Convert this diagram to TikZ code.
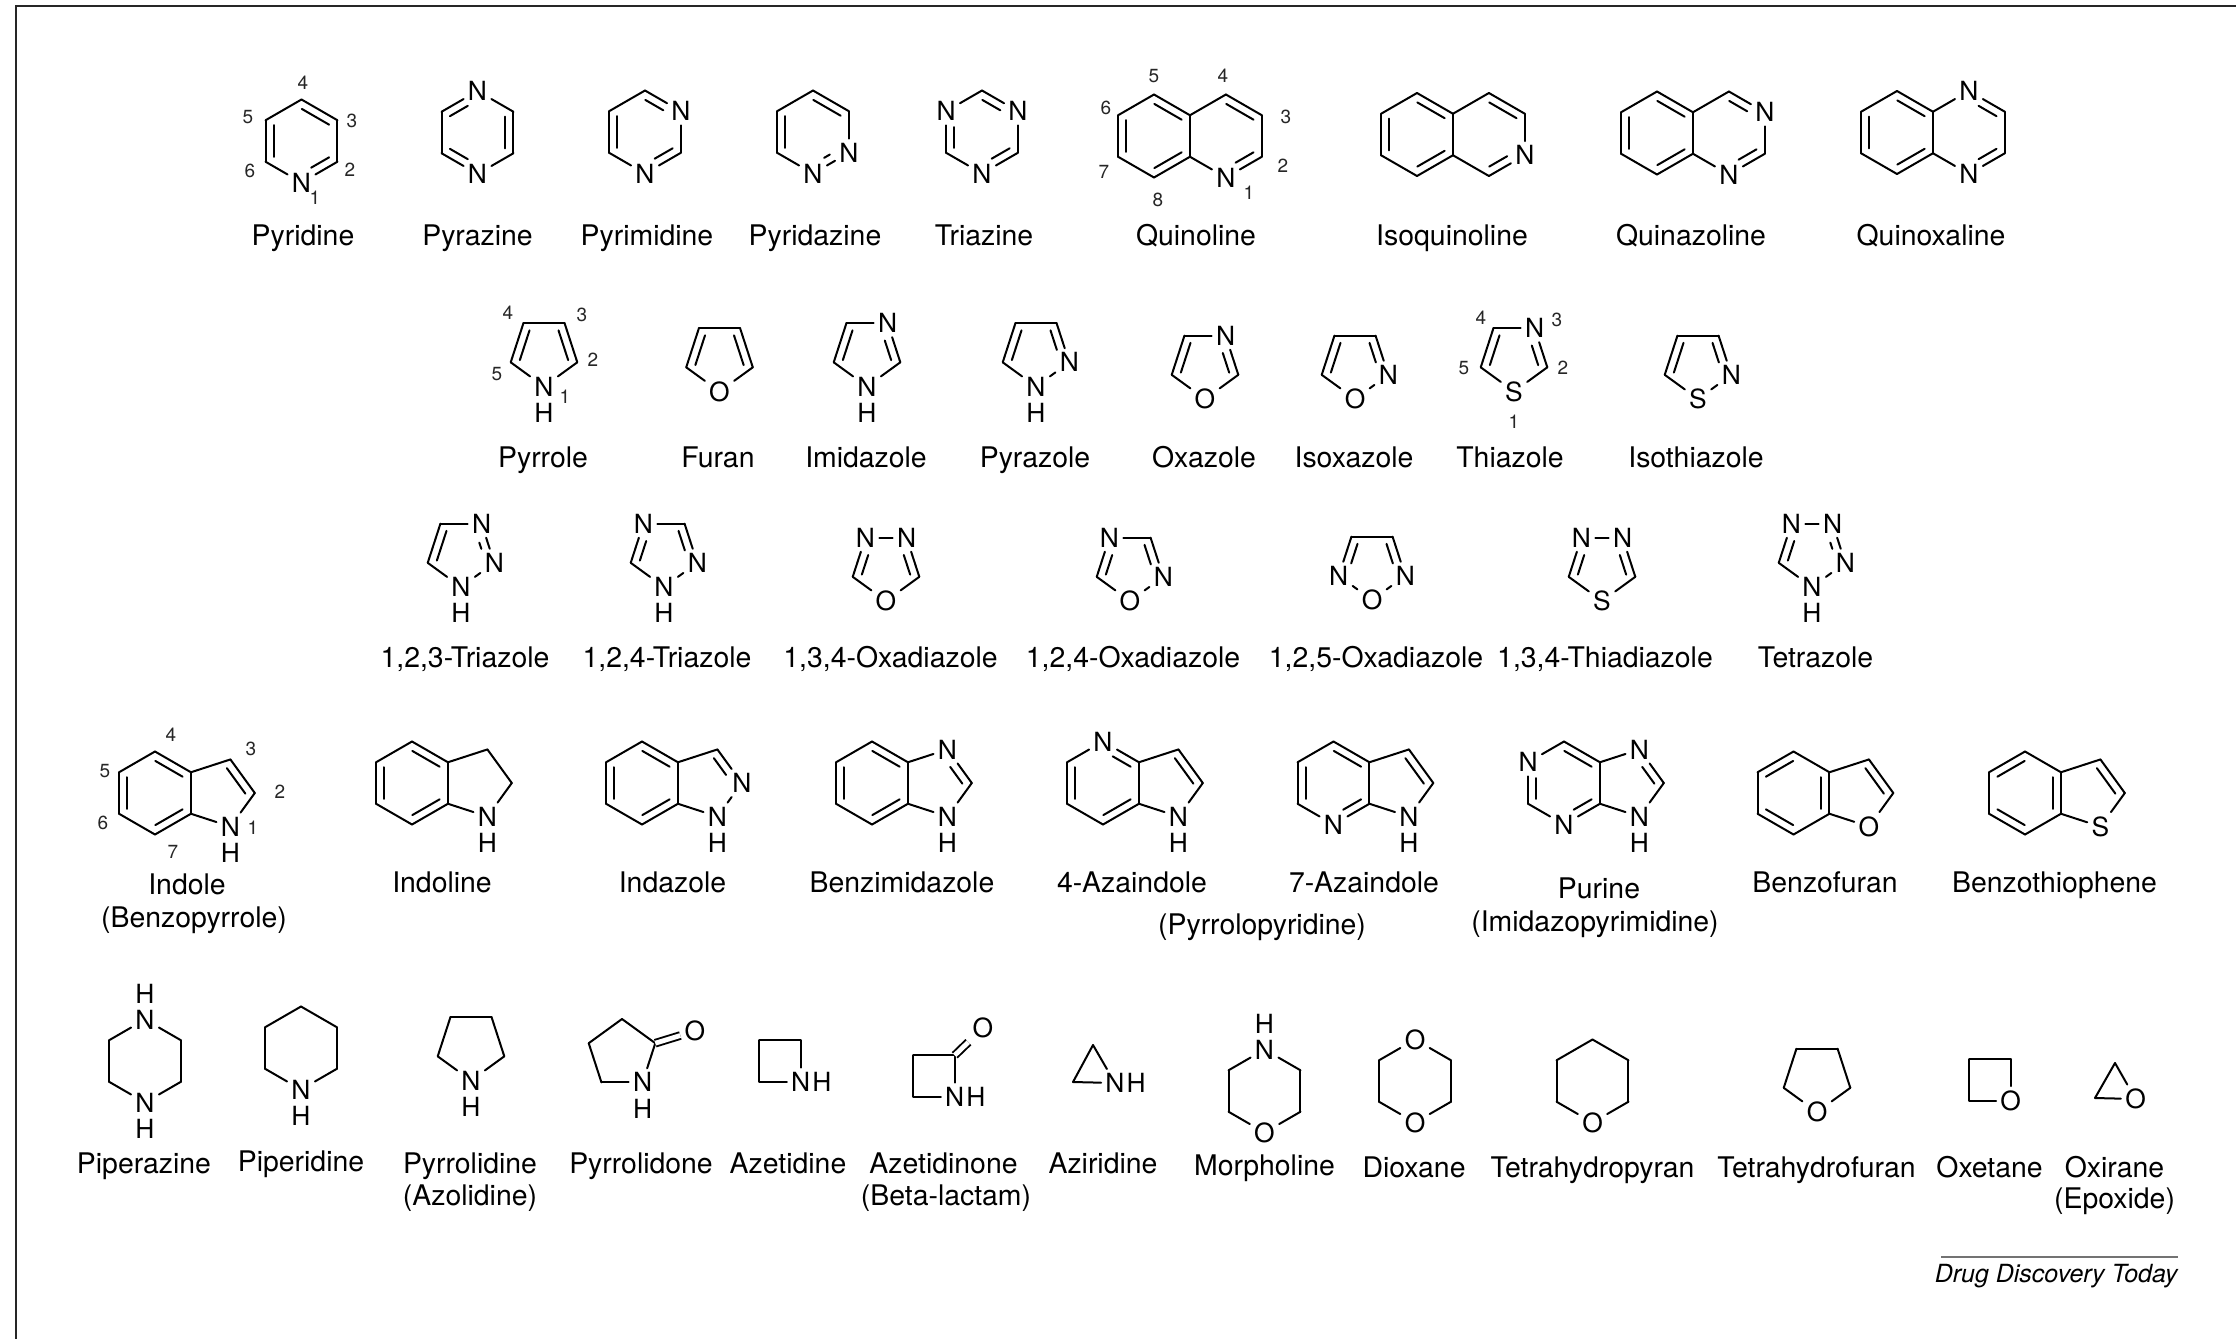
\documentclass[tikz,border=0pt]{standalone}
\usepackage{fontspec}
\setmainfont{TeX Gyre Heros}
\usetikzlibrary{calc,positioning}

% ring of n corners, numbered clockwise from the start angle
\newcommand{\ring}[6]{%
  \foreach \i in {1,...,#5}{
    \pgfmathsetmacro\ang{#6-(\i-1)*360/#5}
    \coordinate (#1\i) at ({#2+#4*cos(\ang)},{#3-#4*sin(\ang)});
  }
}
\newcommand{\hexring}[3]{\ring{#1}{#2}{#3}{41.5}{6}{90}}
\newcommand{\pentring}[3]{\ring{#1}{#2}{#3}{35}{5}{126}}
\newcommand{\hexhex}[3]{\hexring{#1}{#2}{#3}\ring{#1B}{#2+71.9}{#3}{41.5}{6}{150}}
\newcommand{\hexpent}[3]{\hexring{#1}{#2}{#3}\ring{#1B}{#2+64.5}{#3}{35.3}{5}{144}}

\newcommand{\atom}[2]{\node [atom] (#1) at (#1) {#2};}
\newcommand{\nh}[1]{\atom{#1}{N}\node [atom, below=-1pt of #1] (#1H) {H};}
\newcommand{\nhside}[1]{\atom{#1}{N}\node [atom, right=-3.4pt of #1] (#1H) {H};}

\newcommand{\bonds}[2]{%
  \foreach \i [evaluate=\i as \j using {int(mod(\i,#2)+1)}] in {1,...,#2}
    \draw [bond] (#1\i) -- (#1\j);
}
\newcommand{\openbonds}[2]{%
  \foreach \i [evaluate=\i as \j using {int(\i+1)}] in {2,...,#2}
    \draw [bond] (#1\the\numexpr\i-1\relax) -- (#1\i);
}
\newcommand{\dbls}[2]{%
  \foreach \i/\j/\f/\g in {#2}
    \draw [bond] ($(#1\i)!\f!(#1\j)!4pt!-90:(#1\j)$) -- ($(#1\j)!\g!(#1\i)!4pt!90:(#1\i)$);
}
\newcommand{\kekule}[1]{\dbls{#1}{1/2/.12/.12,3/4/.12/.12,5/6/.12/.12}}
\newcommand{\kekuleB}[1]{\dbls{#1}{2/3/.12/.12,4/5/.12/.12,6/1/.12/.12}}

\newcommand{\molname}[4]{\node [molname] (#1-name) at (#2,#3) {#4};}
\newcommand{\locants}[2]{%
  \foreach \n/\x/\y in {#2}
    \node [locant] (#1-loc\n) at (\x,\y) {\n};
}

\begin{document}
\begin{tikzpicture}[
    x=.5pt,
    y=-.5pt,
    bond/.style={line width=1pt, line cap=round, black},
    carbonyl/.style={line width=.95pt, double, double distance=2.4pt, black},
    atom/.style={font=\fontsize{13.2}{15}\selectfont, inner sep=2pt, text=black},
    molname/.style={font=\fontsize{14.2}{16}\selectfont, anchor=base, inner sep=0pt, text=black},
    locant/.style={font=\fontsize{9.5}{11}\selectfont, inner sep=0pt, text=black!85},
    credit/.style={font=\fontsize{12.5}{14}\selectfont\itshape, anchor=base east, inner sep=0pt, text=black}
  ]
  \useasboundingbox [fill=white] (0,0) rectangle (2236,1339);

  % frame, top and left only
  \coordinate (frametop) at (2236,6);
  \coordinate (framecorner) at (16,6);
  \coordinate (framefoot) at (16,1339);
  \draw [line width=1pt, black!85] (frametop) -- (framecorner) -- (framefoot);

  % first row
  \hexring{pyridine}{301.5}{141}
  \atom{pyridine4}{N}
  \bonds{pyridine}{6}
  \dbls{pyridine}{1/2/.12/.12,3/4/.12/.38,5/6/.12/.12}
  \locants{pyridine}{4/303/83,5/248/117,3/352/121,6/250/171,2/350/170,1/315/198}
  \molname{pyridine}{303}{245}{Pyridine}

  \hexring{pyrazine}{477.5}{132.5}
  \atom{pyrazine1}{N}
  \atom{pyrazine4}{N}
  \bonds{pyrazine}{6}
  \dbls{pyrazine}{6/1/.12/.38,2/3/.12/.12,4/5/.38/.12}
  \molname{pyrazine}{477.5}{245}{Pyrazine}

  \hexring{pyrimidine}{645}{132}
  \atom{pyrimidine2}{N}
  \atom{pyrimidine4}{N}
  \bonds{pyrimidine}{6}
  \dbls{pyrimidine}{1/2/.12/.38,3/4/.12/.38,5/6/.12/.12}
  \molname{pyrimidine}{647}{245}{Pyrimidine}

  \hexring{pyridazine}{813}{132}
  \atom{pyridazine3}{N}
  \atom{pyridazine4}{N}
  \bonds{pyridazine}{6}
  \dbls{pyridazine}{1/2/.12/.12,3/4/.42/.42,5/6/.12/.12}
  \molname{pyridazine}{815}{245}{Pyridazine}

  \hexring{triazine}{982}{132}
  \atom{triazine2}{N}
  \atom{triazine4}{N}
  \atom{triazine6}{N}
  \bonds{triazine}{6}
  \dbls{triazine}{1/2/.12/.38,3/4/.12/.38,5/6/.12/.38}
  \molname{triazine}{984}{245}{Triazine}

  \hexhex{quinoline}{1154}{136}
  \atom{quinolineB5}{N}
  \bonds{quinoline}{6}
  \openbonds{quinolineB}{6}
  \kekule{quinoline}
  \dbls{quinolineB}{2/3/.12/.12,4/5/.12/.38}
  \locants{quinoline}{5/1154/76,4/1223/76,3/1286/117,2/1283/166,1/1249/193,8/1158/200,7/1104/172,6/1106/108}
  \molname{quinoline}{1196}{245}{Quinoline}

  \hexhex{isoquinoline}{1417}{134.5}
  \atom{isoquinolineB4}{N}
  \bonds{isoquinoline}{6}
  \openbonds{isoquinolineB}{6}
  \kekule{isoquinoline}
  \dbls{isoquinolineB}{2/3/.12/.12,4/5/.38/.12}
  \molname{isoquinoline}{1452}{245}{Isoquinoline}

  \hexhex{quinazoline}{1657}{133}
  \atom{quinazolineB3}{N}
  \atom{quinazolineB5}{N}
  \bonds{quinazoline}{6}
  \openbonds{quinazolineB}{6}
  \kekule{quinazoline}
  \dbls{quinazolineB}{2/3/.12/.38,4/5/.12/.38}
  \molname{quinazoline}{1691}{245}{Quinazoline}

  \hexhex{quinoxaline}{1897}{132.5}
  \atom{quinoxalineB2}{N}
  \atom{quinoxalineB5}{N}
  \bonds{quinoxaline}{6}
  \openbonds{quinoxalineB}{6}
  \kekule{quinoxaline}
  \dbls{quinoxalineB}{2/3/.38/.12,4/5/.12/.38}
  \molname{quinoxaline}{1931}{245}{Quinoxaline}

  % second row
  \pentring{pyrrole}{544}{351.5}
  \nh{pyrrole4}
  \bonds{pyrrole}{5}
  \dbls{pyrrole}{5/1/.12/.12,2/3/.12/.12}
  \locants{pyrrole}{4/508/313,3/582/315,2/593/360,5/497/374,1/565/397}
  \molname{pyrrole}{543}{467}{Pyrrole}

  \pentring{furan}{719.5}{356.5}
  \atom{furan4}{O}
  \bonds{furan}{5}
  \dbls{furan}{5/1/.12/.12,2/3/.12/.12}
  \molname{furan}{718}{467}{Furan}

  \pentring{imidazole}{867}{351.5}
  \atom{imidazole2}{N}
  \nh{imidazole4}
  \bonds{imidazole}{5}
  \dbls{imidazole}{5/1/.12/.12,2/3/.38/.12}
  \molname{imidazole}{866}{467}{Imidazole}

  \pentring{pyrazole}{1036}{351.5}
  \atom{pyrazole3}{N}
  \nh{pyrazole4}
  \bonds{pyrazole}{5}
  \dbls{pyrazole}{5/1/.12/.12,2/3/.12/.38}
  \molname{pyrazole}{1035}{467}{Pyrazole}

  \pentring{oxazole}{1205}{364}
  \atom{oxazole2}{N}
  \atom{oxazole4}{O}
  \bonds{oxazole}{5}
  \dbls{oxazole}{5/1/.12/.12,2/3/.38/.12}
  \molname{oxazole}{1204}{467}{Oxazole}

  \pentring{isoxazole}{1355}{364}
  \atom{isoxazole3}{N}
  \atom{isoxazole4}{O}
  \bonds{isoxazole}{5}
  \dbls{isoxazole}{5/1/.12/.12,2/3/.12/.38}
  \molname{isoxazole}{1354}{467}{Isoxazole}

  \pentring{thiazole}{1514}{356.5}
  \atom{thiazole2}{N}
  \atom{thiazole4}{S}
  \bonds{thiazole}{5}
  \dbls{thiazole}{5/1/.12/.12,2/3/.38/.12}
  \locants{thiazole}{4/1481/318,3/1557/320,2/1563/368,5/1464/368,1/1514/422}
  \molname{thiazole}{1510}{467}{Thiazole}

  \pentring{isothiazole}{1698}{364}
  \atom{isothiazole3}{N}
  \atom{isothiazole4}{S}
  \bonds{isothiazole}{5}
  \dbls{isothiazole}{5/1/.12/.12,2/3/.12/.38}
  \molname{isothiazole}{1696}{467}{Isothiazole}

  % third row
  \pentring{triazoleA}{461}{552}
  \atom{triazoleA2}{N}
  \atom{triazoleA3}{N}
  \nh{triazoleA4}
  \bonds{triazoleA}{5}
  \dbls{triazoleA}{5/1/.12/.12,2/3/.42/.42}
  \molname{triazoleA}{465}{667}{1,2,3-Triazole}

  \pentring{triazoleB}{664}{552}
  \atom{triazoleB1}{N}
  \atom{triazoleB3}{N}
  \nh{triazoleB4}
  \bonds{triazoleB}{5}
  \dbls{triazoleB}{5/1/.12/.38,2/3/.12/.38}
  \molname{triazoleB}{667}{667}{1,2,4-Triazole}

  \pentring{oxadiazoleA}{886}{566}
  \atom{oxadiazoleA1}{N}
  \atom{oxadiazoleA2}{N}
  \atom{oxadiazoleA4}{O}
  \bonds{oxadiazoleA}{5}
  \dbls{oxadiazoleA}{5/1/.12/.38,2/3/.38/.12}
  \molname{oxadiazoleA}{890.5}{667}{1,3,4-Oxadiazole}

  \pentring{oxadiazoleB}{1130}{566}
  \atom{oxadiazoleB1}{N}
  \atom{oxadiazoleB3}{N}
  \atom{oxadiazoleB4}{O}
  \bonds{oxadiazoleB}{5}
  \dbls{oxadiazoleB}{5/1/.12/.38,2/3/.12/.38}
  \molname{oxadiazoleB}{1133}{667}{1,2,4-Oxadiazole}

  \pentring{oxadiazoleC}{1372}{565}
  \atom{oxadiazoleC3}{N}
  \atom{oxadiazoleC4}{O}
  \atom{oxadiazoleC5}{N}
  \bonds{oxadiazoleC}{5}
  \dbls{oxadiazoleC}{5/1/.38/.12,2/3/.12/.38}
  \molname{oxadiazoleC}{1376}{667}{1,2,5-Oxadiazole}

  \pentring{thiadiazole}{1602}{566}
  \atom{thiadiazole1}{N}
  \atom{thiadiazole2}{N}
  \atom{thiadiazole4}{S}
  \bonds{thiadiazole}{5}
  \dbls{thiadiazole}{5/1/.12/.38,2/3/.38/.12}
  \molname{thiadiazole}{1605}{667}{1,3,4-Thiadiazole}

  \pentring{tetrazole}{1812}{552}
  \atom{tetrazole1}{N}
  \atom{tetrazole2}{N}
  \atom{tetrazole3}{N}
  \nh{tetrazole4}
  \bonds{tetrazole}{5}
  \dbls{tetrazole}{5/1/.12/.38,2/3/.42/.42}
  \molname{tetrazole}{1815.5}{667}{Tetrazole}

  % fourth row
  \hexpent{indole}{155}{793}
  \nh{indoleB4}
  \bonds{indole}{6}
  \openbonds{indoleB}{5}
  \kekule{indole}
  \dbls{indoleB}{2/3/.12/.12}
  \locants{indole}{4/171/735,3/251/749,2/280/792,1/253/828,5/105/771,6/103/823,7/173/852}
  \molname{indole}{187}{894}{Indole}
  \node [molname] (indole-alt) at (194,927) {(Benzopyrrole)};

  \hexpent{indoline}{412}{783}
  \nh{indolineB4}
  \bonds{indoline}{6}
  \openbonds{indolineB}{5}
  \kekule{indoline}
  \molname{indoline}{442}{892}{Indoline}

  \hexpent{indazole}{642}{783}
  \atom{indazoleB3}{N}
  \nh{indazoleB4}
  \bonds{indazole}{6}
  \openbonds{indazoleB}{5}
  \kekule{indazole}
  \dbls{indazoleB}{2/3/.12/.38}
  \molname{indazole}{672.5}{892}{Indazole}

  \hexpent{benzimidazole}{872}{783}
  \atom{benzimidazoleB2}{N}
  \nh{benzimidazoleB4}
  \bonds{benzimidazole}{6}
  \openbonds{benzimidazoleB}{5}
  \kekule{benzimidazole}
  \dbls{benzimidazoleB}{2/3/.38/.12}
  \molname{benzimidazole}{902}{892}{Benzimidazole}

  \hexpent{azaindoleA}{1103}{783}
  \atom{azaindoleA1}{N}
  \nh{azaindoleAB4}
  \bonds{azaindoleA}{6}
  \openbonds{azaindoleAB}{5}
  \dbls{azaindoleA}{1/2/.38/.12,3/4/.12/.12,5/6/.12/.12}
  \dbls{azaindoleAB}{2/3/.12/.12}
  \molname{azaindoleA}{1132}{892}{4-Azaindole}
  \node [molname] (azaindole-alt) at (1262,934) {(Pyrrolopyridine)};

  \hexpent{azaindoleB}{1333.5}{783}
  \atom{azaindoleB4}{N}
  \nh{azaindoleBB4}
  \bonds{azaindoleB}{6}
  \openbonds{azaindoleBB}{5}
  \dbls{azaindoleB}{1/2/.12/.12,3/4/.12/.38,5/6/.12/.12}
  \dbls{azaindoleBB}{2/3/.12/.12}
  \molname{azaindoleB}{1364}{892}{7-Azaindole}

  \hexpent{purine}{1564}{783}
  \atom{purine4}{N}
  \atom{purine6}{N}
  \atom{purineB2}{N}
  \nh{purineB4}
  \bonds{purine}{6}
  \openbonds{purineB}{5}
  \dbls{purine}{1/2/.12/.12,3/4/.12/.38,5/6/.12/.38}
  \dbls{purineB}{2/3/.38/.12}
  \molname{purine}{1599}{898}{Purine}
  \node [molname] (purine-alt) at (1595,931) {(Imidazopyrimidine)};

  \hexpent{benzofuran}{1793.5}{793}
  \atom{benzofuranB4}{O}
  \bonds{benzofuran}{6}
  \openbonds{benzofuranB}{5}
  \kekuleB{benzofuran}
  \dbls{benzofuranB}{2/3/.12/.12}
  \molname{benzofuran}{1825}{892}{Benzofuran}

  \hexpent{benzothiophene}{2025}{793}
  \atom{benzothiopheneB4}{S}
  \bonds{benzothiophene}{6}
  \openbonds{benzothiopheneB}{5}
  \kekuleB{benzothiophene}
  \dbls{benzothiopheneB}{2/3/.12/.12}
  \molname{benzothiophene}{2054.5}{892}{Benzothiophene}

  % last row
  \hexring{piperazine}{145}{1061}
  \atom{piperazine1}{N}
  \node [atom, above=-1pt of piperazine1] (piperazine1H) {H};
  \nh{piperazine4}
  \bonds{piperazine}{6}
  \molname{piperazine}{144}{1173}{Piperazine}

  \hexring{piperidine}{301}{1048}
  \nh{piperidine4}
  \bonds{piperidine}{6}
  \molname{piperidine}{301}{1171}{Piperidine}

  \pentring{pyrrolidine}{471}{1045.5}
  \nh{pyrrolidine4}
  \bonds{pyrrolidine}{5}
  \molname{pyrrolidine}{470}{1173}{Pyrrolidine}
  \node [molname] (pyrrolidine-alt) at (470,1205) {(Azolidine)};

  \ring{pyrrolidone}{622}{1054}{35}{5}{90}
  \nh{pyrrolidone3}
  \node [atom] (pyrrolidoneO) at (695,1031) {O};
  \bonds{pyrrolidone}{5}
  \draw [carbonyl] (pyrrolidone2) -- (pyrrolidoneO);
  \molname{pyrrolidone}{641}{1173}{Pyrrolidone}

  \ring{azetidine}{780}{1061}{29.3}{4}{135}
  \nhside{azetidine3}
  \bonds{azetidine}{4}
  \molname{azetidine}{788}{1173}{Azetidine}

  \ring{azetidinone}{934}{1076}{29.3}{4}{135}
  \nhside{azetidinone3}
  \node [atom] (azetidinoneO) at (983,1028) {O};
  \bonds{azetidinone}{4}
  \draw [carbonyl] (azetidinone2) -- (azetidinoneO);
  \molname{azetidinone}{943.5}{1173}{Azetidinone}
  \node [molname] (azetidinone-alt) at (946,1205) {(Beta-lactam)};

  \coordinate (aziridine1) at (1093,1045);
  \coordinate (aziridine2) at (1115,1083);
  \coordinate (aziridine3) at (1073,1082);
  \nhside{aziridine2}
  \bonds{aziridine}{3}
  \molname{aziridine}{1103}{1173}{Aziridine}

  \hexring{morpholine}{1264.5}{1091}
  \atom{morpholine1}{N}
  \node [atom, above=-1pt of morpholine1] (morpholine1H) {H};
  \atom{morpholine4}{O}
  \bonds{morpholine}{6}
  \molname{morpholine}{1264.5}{1175}{Morpholine}

  \hexring{dioxane}{1415}{1081}
  \atom{dioxane1}{O}
  \atom{dioxane4}{O}
  \bonds{dioxane}{6}
  \molname{dioxane}{1414}{1177}{Dioxane}

  \hexring{tetrahydropyran}{1592.5}{1081}
  \atom{tetrahydropyran4}{O}
  \bonds{tetrahydropyran}{6}
  \molname{tetrahydropyran}{1592.5}{1177}{Tetrahydropyran}

  \pentring{tetrahydrofuran}{1817}{1077}
  \atom{tetrahydrofuran4}{O}
  \bonds{tetrahydrofuran}{5}
  \molname{tetrahydrofuran}{1816.5}{1177}{Tetrahydrofuran}

  \ring{oxetane}{1990}{1080}{29.3}{4}{135}
  \atom{oxetane3}{O}
  \bonds{oxetane}{4}
  \molname{oxetane}{1989.5}{1177}{Oxetane}

  \coordinate (oxirane1) at (2115,1063);
  \coordinate (oxirane2) at (2135.5,1099);
  \coordinate (oxirane3) at (2095,1098);
  \atom{oxirane2}{O}
  \bonds{oxirane}{3}
  \molname{oxirane}{2114.5}{1177}{Oxirane}
  \node [molname] (oxirane-alt) at (2114.5,1208) {(Epoxide)};

  % journal line
  \coordinate (creditleft) at (1941,1257);
  \coordinate (creditright) at (2178,1257);
  \draw [line width=.9pt, black!55] (creditleft) -- (creditright);
  \node [credit] (creditname) at (2178,1282) {Drug Discovery Today};

\end{tikzpicture}
\end{document}
